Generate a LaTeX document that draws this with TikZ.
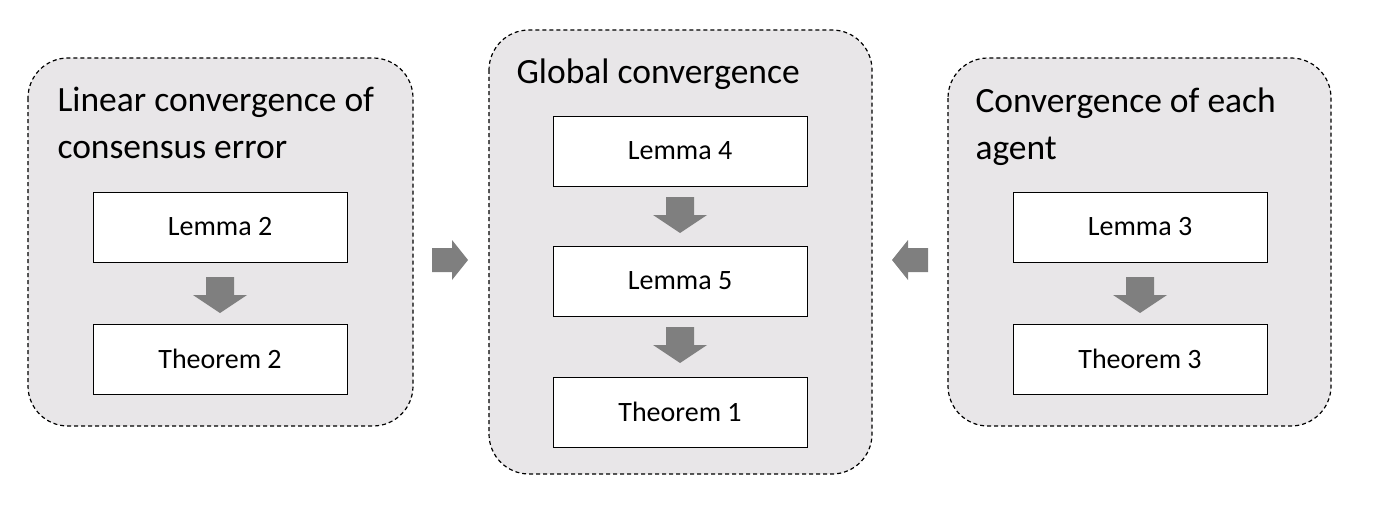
\documentclass[tikz,border=0pt]{standalone}
\usepackage{fontspec}
\setmainfont{Carlito}
\definecolor{panel}{HTML}{E8E6E8}
\definecolor{arr}{HTML}{7F7F7F}
\begin{document}
\begin{tikzpicture}[x=1pt,y=-1pt,
 panel/.style={draw=black,dash pattern=on 4pt off 3pt,line width=1.2pt,fill=panel,rounded corners=40pt},
 box/.style={draw=black,line width=1pt,fill=white,minimum width=254pt,minimum height=70pt,font=\fontsize{28}{32}\selectfont},
 title/.style={anchor=north west,align=left,font=\fontsize{35.5}{47}\selectfont},
 blk/.style={fill=arr,draw=none},
 pics/down/.style={code={\fill[blk] (-14,-18)--(14,-18)--(14,0)--(27,0)--(0,18)--(-27,0)--(-14,0)--cycle;}},
 pics/right/.style={code={\fill[blk] (-18,-12)--(2,-12)--(2,-20)--(18,0)--(2,20)--(2,12)--(-18,12)--cycle;}}]
\useasboundingbox (0,0) rectangle (1376,519);
\draw[panel] (28,58) rectangle (413,426);
\draw[panel] (489,30) rectangle (872,474);
\draw[panel] (948,58) rectangle (1331,426);
\node[title] (t1) at (54,84) {Linear convergence of\\consensus error};
\node[title] (t2) at (513,55) {Global convergence};
\node[title] (t3) at (972,84) {Convergence of each\\agent};
\node[box] (l2) at (220,227) {Lemma 2};
\node[box] (th2) at (220,359) {Theorem 2};
\node[box] (l4) at (680,151) {Lemma 4};
\node[box] (l5) at (680,281) {Lemma 5};
\node[box] (th1) at (680,412) {Theorem 1};
\node[box] (l3) at (1140,227) {Lemma 3};
\node[box] (th3) at (1140,359) {Theorem 3};
\pic at (220,295) {down};
\pic at (680,215) {down};
\pic at (680,345) {down};
\pic at (1140,295) {down};
\pic at (450,260) {right};
\pic[xscale=-1] at (910,260) {right};
\end{tikzpicture}
\end{document}
